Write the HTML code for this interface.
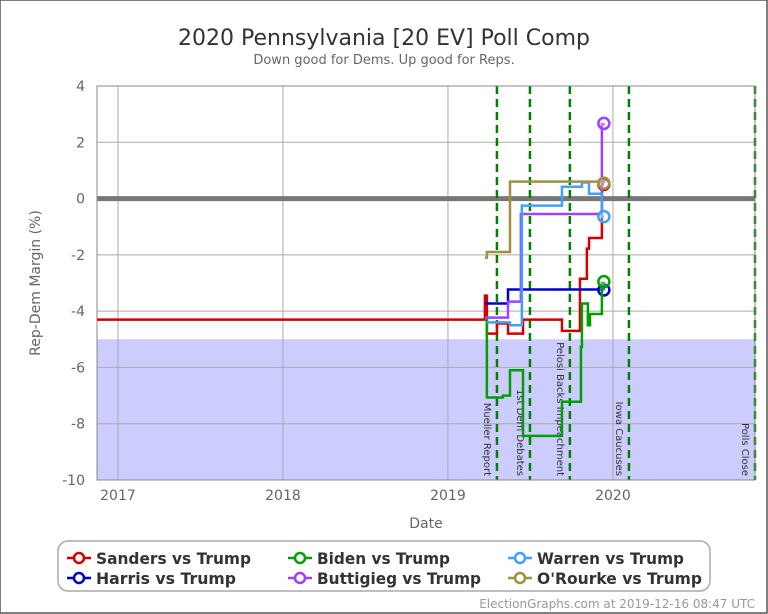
<!DOCTYPE html>
<html><head><meta charset="utf-8"><style>
body{margin:0;background:#fff;}
svg{display:block;font-family:"DejaVu Sans","Liberation Sans",sans-serif;}
</style></head><body>
<svg id="chart" width="768" height="614" viewBox="0 0 768 614">
<rect x="0" y="0" width="767" height="613" fill="#fff" stroke="#555" stroke-width="1.5"/>
<text x="384" y="45" text-anchor="middle" font-size="22" fill="#333">2020 Pennsylvania [20 EV] Poll Comp</text>
<text x="384" y="64" text-anchor="middle" font-size="13" fill="#666">Down good for Dems. Up good for Reps.</text>
<text transform="translate(40,283) rotate(-90)" text-anchor="middle" font-size="14" fill="#666">Rep-Dem Margin (%)</text>
<text x="426" y="528" text-anchor="middle" font-size="14" fill="#666">Date</text>
<g id="plot"></g>
<rect x="58" y="541" width="652" height="50" rx="10" fill="#fff" stroke="#aaa" stroke-width="1.5"/>
<g id="legend"></g>
<text x="755" y="608" text-anchor="end" font-size="12" fill="#999">ElectionGraphs.com at 2019-12-16 08:47 UTC</text>
</svg>
<script>
// data (decimal years / margin %)
const yTicks=[-10,-8,-6,-4,-2,0,2,4];
const xTicks=[2017,2018,2019,2020];
const events=["Mueller Report","1st Dem Debates","Pelosi Backs Impeachment","Iowa Caucuses","Polls Close"];
const eventDates=[2019.297,2019.497,2019.739,2020.097,2020.861];
const seriesNames=["Sanders vs Trump","Harris vs Trump","Biden vs Trump","Buttigieg vs Trump","Warren vs Trump","O'Rourke vs Trump"];
const seriesColors=["#d40000","#0000cc","#00a000","#a040ff","#40a0ff","#a09040"];
const sandersDates=[2016.873,2019.224,2019.236,2019.297,2019.364,2019.455,2019.691,2019.8,2019.842,2019.855,2019.933,2019.945];
const sandersVals=[-4.3,-3.45,-4.8,-4.44,-4.8,-4.3,-4.7,-2.85,-1.78,-1.4,0.5,0.5];
const harrisDates=[2019.224,2019.364,2019.945];
const harrisVals=[-3.73,-3.23,-3.25];
const bidenDates=[2019.224,2019.236,2019.333,2019.376,2019.455,2019.691,2019.806,2019.812,2019.848,2019.861,2019.933,2019.945];
const bidenVals=[-4.3,-7.07,-7.0,-6.1,-8.43,-7.22,-5.27,-3.73,-4.5,-4.1,-3.0,-2.95];
const buttigiegDates=[2019.224,2019.364,2019.442,2019.933,2019.945];
const buttigiegVals=[-4.23,-3.66,-0.55,2.65,2.67];
const warrenDates=[2019.236,2019.376,2019.448,2019.691,2019.812,2019.855,2019.933,2019.945];
const warrenVals=[-4.4,-4.5,-0.25,0.42,0.57,0.17,-0.64,-0.64];
const orourkeDates=[2019.224,2019.236,2019.376,2019.945];
const orourkeVals=[-2.1,-1.9,0.6,0.55];
const allDates=[sandersDates,harrisDates,bidenDates,buttigiegDates,warrenDates,orourkeDates];
const allVals=[sandersVals,harrisVals,bidenVals,buttigiegVals,warrenVals,orourkeVals];

const NS="http://www.w3.org/2000/svg";
const X0=97,X1=755,Y0=86,Y1=480,D0=2016.873,D1=2020.861;
const xs=d=>X0+(d-D0)/(D1-D0)*(X1-X0);
const ys=v=>Y1-(v+10)/14*(Y1-Y0);
const plot=document.getElementById('plot');
function mk(tag,attrs,parent){const e=document.createElementNS(NS,tag);for(const k in attrs)e.setAttribute(k,attrs[k]);(parent||plot).appendChild(e);return e;}

const band=mk('rect',{x:X0,y:ys(-5),width:X1-X0,height:ys(-10)-ys(-5),fill:'#ccccff'});


yTicks.forEach(v=>{
  if(v!==0){const l=mk('line',{x1:X0,x2:X1,y1:ys(v),y2:ys(v),stroke:'#aaa','stroke-width':1});
  
  }
  const t=mk('text',{x:X0-12,y:ys(v)+5,'text-anchor':'end','font-size':14,fill:'#666'});
  t.textContent=v;
  
  
});
xTicks.forEach(d=>{
  const l=mk('line',{x1:xs(d),x2:xs(d),y1:Y0,y2:Y1,stroke:'#aaa','stroke-width':1});
  
  
  const t=mk('text',{x:xs(d),y:Y1+20,'text-anchor':'middle','font-size':14,fill:'#666'});
  t.textContent=d;
  
  
});
const zl=mk('line',{x1:X0,x2:X1,y1:ys(0),y2:ys(0),stroke:'#777','stroke-width':5});


events.forEach((n,i)=>{
  const x=xs(eventDates[i]);
  const l=mk('line',{x1:x,x2:x,y1:Y0,y2:Y1,stroke:'#008000','stroke-width':2.5,'stroke-dasharray':'8,5'});
  
  
  const t=mk('text',{transform:`translate(${x-13},${Y1-4}) rotate(90)`,'text-anchor':'end','font-size':10,fill:'#333'});
  t.textContent=n;
  
  
});
const ax=mk('rect',{x:X0,y:Y0,width:X1-X0,height:Y1-Y0,fill:'none',stroke:'#888','stroke-width':1});


allDates.forEach((ds,i)=>{
  const vs=allVals[i];let p=`M${xs(ds[0])},${ys(vs[0])}`;
  for(let k=1;k<ds.length;k++){p+=` H${xs(ds[k])} V${ys(vs[k])}`;}
  const path=mk('path',{d:p,fill:'none',stroke:seriesColors[i],'stroke-width':2.5});
  
  
  const c=mk('circle',{cx:xs(ds[ds.length-1]),cy:ys(vs[vs.length-1]),r:5.5,fill:'#fff','fill-opacity':0.3,stroke:seriesColors[i],'stroke-width':2.5});
  
  
});
// legend
const leg=document.getElementById('legend');
const order=[0,2,4,1,3,5];
const colX=[67,288,508];
const textW=[155,133,147,140,164,165];
order.forEach((si,j)=>{
  const col=j%3,row=Math.floor(j/3);
  const x=colX[col],y=558+row*20;
  const g=mk('g',{},leg);
  
  
  mk('line',{x1:x,x2:x+24,y1:y,y2:y,stroke:seriesColors[si],'stroke-width':2.5},g);
  mk('circle',{cx:x+12,cy:y,r:5,fill:'#fff',stroke:seriesColors[si],'stroke-width':2.5},g);
  const t=mk('text',{x:x+29,y:y+6,'font-size':16,'font-weight':'bold',fill:'#333',textLength:textW[j],lengthAdjust:'spacingAndGlyphs'},g);
  t.textContent=seriesNames[si];
});
</script>
</body></html>
